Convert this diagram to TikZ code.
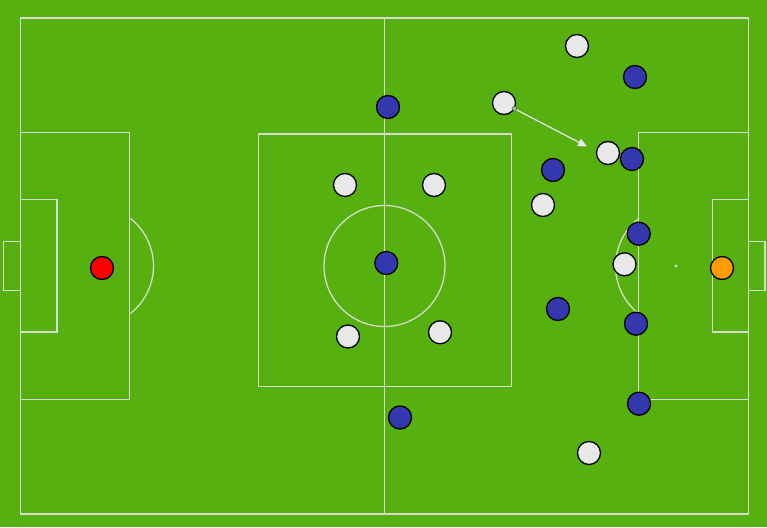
\documentclass[tikz,border=0pt]{standalone}
\usepackage{tikz}
\usetikzlibrary{arrows.meta}
\definecolor{pitchgreen}{HTML}{55B010}
\definecolor{chalk}{HTML}{D6DCCB}
\definecolor{teamblue}{HTML}{3338AE}
\definecolor{teamwhite}{HTML}{E8E8E8}
\definecolor{keeperorange}{HTML}{FF9A00}
\def\pitch{(20.5,18) rectangle (748.5,514)}
\def\centrecircle{(384.5,266) circle(60.5)}
\tikzset{
  player/.style={circle, draw=black, line width=1.3pt, minimum size=23pt, inner sep=0pt},
  blue/.style={player, fill=teamblue},
  white/.style={player, fill=teamwhite},
  chalkline/.style={draw=chalk, line width=1.3pt}
}

\begin{document}
\begin{tikzpicture}[x=1pt,y=-1pt]
				\fill[pitchgreen] (0,0) rectangle (767,527);
				\useasboundingbox (0,0) rectangle (767,527);
				
				%drawing the markings of the pitch
				\draw[chalkline] \pitch;
				\draw[chalkline] (384.5,18) -- (384.5,514);
				\draw[chalkline] \centrecircle;
				\draw[chalkline] (258.7,134) rectangle (511.7,386.7);
				%left end
				\draw[chalkline] (20.5,132.7) rectangle (129.3,399.3);
				\draw[chalkline] (20.5,199.7) rectangle (57,332);
				\draw[chalkline] (20.5,241.7) -- (3.7,241.7) -- (3.7,290.3) -- (20.5,290.3);
				\draw[chalkline] (93,266) ++(-52:60.5) arc(-52:52:60.5);
				\fill[chalk] (93,266) circle(1.6);
				%right end
				\draw[chalkline] (638.7,132.7) rectangle (748.5,399.3);
				\draw[chalkline] (712.3,199.7) rectangle (748.5,332);
				\draw[chalkline] (748.5,241.7) -- (765,241.7) -- (765,290.3) -- (748.5,290.3);
				\draw[chalkline] (676,266) ++(128:60.5) arc(128:232:60.5);
				\fill[chalk] (676,266) circle(1.6);
				 
				%keepers
				\node[player, fill=red] (redkeeper) at (102,268){};
				\node[player, fill=keeperorange] (orangekeeper) at (722,268){};
				
				%white team
				\node[white] (w1) at (577,46){};
				\node[white] (w2) at (504,103){};
				\node[white] (w3) at (608,153){};
				\node[white] (w4) at (543,205){};
				\node[white] (w5) at (624.5,264.3){};
				\node[white] (w6) at (345,185){};
				\node[white] (w7) at (434,185){};
				\node[white] (w8) at (348,336.5){};
				\node[white] (w9) at (440,332.3){};
				\node[white] (w10) at (589,453){};
				
				%blue team
				\node[blue] (b1) at (635,77){};
				\node[blue] (b2) at (388,107){};
				\node[blue] (b3) at (632,159){};
				\node[blue] (b4) at (553,170){};
				\node[blue] (b5) at (638.7,233.7){};
				\node[blue] (b6) at (386.3,263){};
				\node[blue] (b7) at (558,309){};
				\node[blue] (b8) at (636,323.7){};
				\node[blue] (b9) at (639,403.7){};
				\node[blue] (b10) at (400,417.5){};
				
				%the run
				\coordinate (runend) at (587,146.5);
				\node[circle, draw=black!70, fill=gray!60, line width=0.5pt, minimum size=4.5pt, inner sep=0pt] (runstart) at (514.3,108.7){};
				\draw[draw=teamwhite, line width=1.2pt, -{Triangle[length=9pt, width=8pt]}] (runstart) -- (runend);
			\end{tikzpicture}
\end{document}
